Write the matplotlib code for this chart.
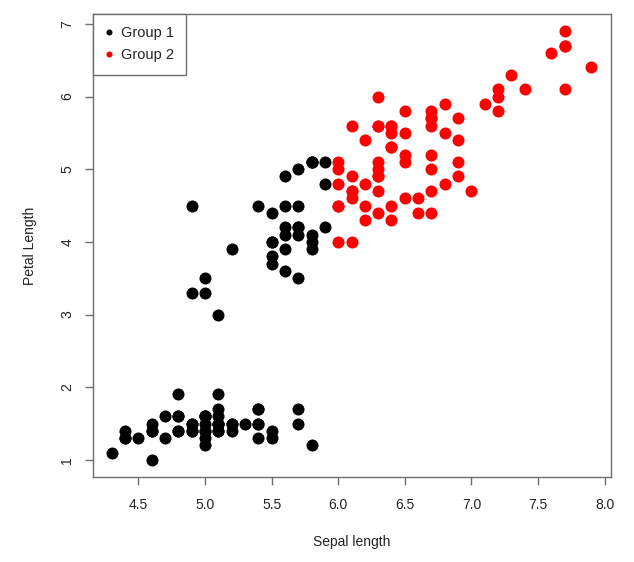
import matplotlib
matplotlib.use("Agg")
import matplotlib.pyplot as plt
import numpy as np

plt.rcParams['font.family'] = ['Liberation Sans', 'DejaVu Sans']

# iris, sepal length vs petal length, split in two groups
group1_sepal = [5.1, 4.9, 4.7, 4.6, 5.0, 5.4, 4.6, 5.0, 4.4, 4.9, 5.4, 4.8, 4.8, 4.3, 5.8,
                5.7, 5.4, 5.1, 5.7, 5.1, 5.4, 5.1, 4.6, 5.1, 4.8, 5.0, 5.0, 5.2, 5.2, 4.7,
                4.8, 5.4, 5.2, 5.5, 4.9, 5.0, 5.5, 4.9, 4.4, 5.1, 5.0, 4.5, 4.4, 5.0, 5.1,
                4.8, 5.1, 4.6, 5.3, 5.0,
                5.5, 5.7, 4.9, 5.2, 5.0, 5.9, 5.6, 5.6, 5.8, 5.6, 5.9, 5.7, 5.5, 5.5, 5.8,
                5.4, 5.6, 5.5, 5.5, 5.8, 5.0, 5.6, 5.7, 5.7, 5.1, 5.7,
                5.8, 4.9, 5.7, 5.8, 5.6, 5.8, 5.9]
group1_petal = [1.4, 1.4, 1.3, 1.5, 1.4, 1.7, 1.4, 1.5, 1.4, 1.5, 1.5, 1.6, 1.4, 1.1, 1.2,
                1.5, 1.3, 1.4, 1.7, 1.5, 1.7, 1.5, 1.0, 1.7, 1.9, 1.6, 1.6, 1.5, 1.4, 1.6,
                1.6, 1.5, 1.5, 1.4, 1.5, 1.2, 1.3, 1.4, 1.3, 1.5, 1.3, 1.3, 1.3, 1.6, 1.9,
                1.4, 1.6, 1.4, 1.5, 1.4,
                4.0, 4.5, 3.3, 3.9, 3.5, 4.2, 3.6, 4.5, 4.1, 3.9, 4.8, 3.5, 3.8, 3.7, 3.9,
                4.5, 4.1, 4.0, 4.4, 4.0, 3.3, 4.2, 4.2, 4.2, 3.0, 4.1,
                5.1, 4.5, 5.0, 5.1, 4.9, 5.1, 5.1]

group2_sepal = [7.0, 6.4, 6.9, 6.5, 6.3, 6.6, 6.0, 6.1, 6.7, 6.2, 6.1, 6.3, 6.1, 6.4, 6.6,
                6.8, 6.7, 6.0, 6.0, 6.0, 6.7, 6.3, 6.1, 6.2,
                6.3, 7.1, 6.3, 6.5, 7.6, 7.3, 6.7, 7.2, 6.5, 6.4, 6.8, 6.4, 6.5, 7.7, 7.7,
                6.0, 6.9, 7.7, 6.3, 6.7, 7.2, 6.2, 6.1, 6.4, 7.2, 7.4, 7.9, 6.4, 6.3, 6.1,
                7.7, 6.3, 6.4, 6.0, 6.9, 6.7, 6.9, 6.8, 6.7, 6.7, 6.3, 6.5, 6.2]
group2_petal = [4.7, 4.5, 4.9, 4.6, 4.7, 4.6, 4.0, 4.7, 4.4, 4.5, 4.0, 4.9, 4.7, 4.3, 4.4,
                4.8, 5.0, 4.5, 5.1, 4.5, 4.7, 4.4, 4.6, 4.3,
                6.0, 5.9, 5.6, 5.8, 6.6, 6.3, 5.8, 6.1, 5.1, 5.3, 5.5, 5.3, 5.5, 6.7, 6.9,
                5.0, 5.7, 6.7, 4.9, 5.7, 6.0, 4.8, 4.9, 5.6, 5.8, 6.1, 6.4, 5.6, 5.1, 5.6,
                6.1, 5.6, 5.5, 4.8, 5.4, 5.6, 5.1, 5.9, 5.7, 5.2, 5.0, 5.2, 5.4]

x_ticks = [4.5, 5.0, 5.5, 6.0, 6.5, 7.0, 7.5, 8.0]
y_ticks = [1, 2, 3, 4, 5, 6, 7]

fig = plt.figure(figsize=(6.34, 5.62), dpi=100)
ax = fig.add_axes([0.1459, 0.1512, 0.8171, 0.8239])

ax.scatter(group1_sepal, group1_petal, s=75, c='black', linewidths=0, label='Group 1')
ax.scatter(group2_sepal, group2_petal, s=75, c='red', linewidths=0, label='Group 2')

# R style range: data range + 4%
allx = np.array(group1_sepal + group2_sepal)
ally = np.array(group1_petal + group2_petal)
dx = (allx.max() - allx.min()) * 0.04
dy = (ally.max() - ally.min()) * 0.04
ax.set_xlim(allx.min() - dx, allx.max() + dx)
ax.set_ylim(ally.min() - dy, ally.max() + dy)

ax.set_xticks(x_ticks)
ax.set_xticklabels(['%.1f' % v for v in x_ticks])
ax.set_yticks(y_ticks)
ax.set_yticklabels([str(v) for v in y_ticks], rotation=90, va='center')

edge = '#6e6e6e'
for sp in ax.spines.values():
    sp.set_color(edge)
    sp.set_linewidth(1.0)
ax.tick_params(axis='both', length=6, width=1.0, color=edge, labelsize=10, labelcolor='#222222')
ax.tick_params(axis='x', pad=9)
ax.tick_params(axis='y', pad=7)

ax.set_xlabel('Sepal length', fontsize=10, color='#222222')
ax.set_ylabel('Petal Length', fontsize=10, color='#222222')
ax.xaxis.set_label_coords(0.5, -0.125)
ax.yaxis.set_label_coords(-0.108, 0.5)

leg = ax.legend(loc='upper left', borderaxespad=0, fancybox=False, framealpha=1,
                edgecolor=edge, fontsize=10.5, markerscale=0.5, scatteryoffsets=[0.5],
                handletextpad=0.6, handlelength=0.5, borderpad=0.85, labelspacing=0.55)
leg.get_frame().set_linewidth(1.0)
for t in leg.get_texts():
    t.set_color('#222222')

fig.savefig('out.png', dpi=100)
